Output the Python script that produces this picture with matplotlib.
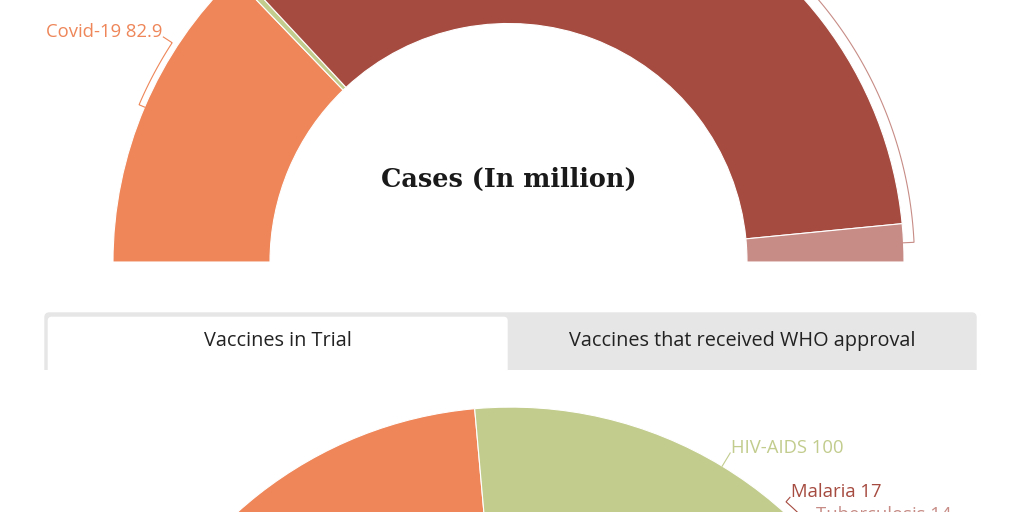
import numpy as np
import matplotlib
matplotlib.use("Agg")
import matplotlib.pyplot as plt
from matplotlib.patches import Wedge, FancyBboxPatch, Rectangle

# ---------------- data ----------------
diseases = ["Covid-19", "HIV-AIDS", "Malaria", "Tuberculosis"]
cases_millions = [82.9, 1.7, 229, 10]
vaccines_in_trial = [365, 100, 17, 14]
tab_labels = ["Vaccines in Trial", "Vaccines that received WHO approval"]
chart_title = "Cases (In million)"
colors = ["#EE8659", "#C2CC8D", "#A64B40", "#C78C86"]

# ---------------- layout ----------------
W, H = 1024, 512
fig = plt.figure(figsize=(W / 100, H / 100), dpi=100)
ax = fig.add_axes([0, 0, 1, 1])
ax.set_xlim(0, W)
ax.set_ylim(H, 0)
ax.axis("off")

SANS = ["Open Sans", "DejaVu Sans"]
renderer = fig.canvas.get_renderer()


def fit_size(s, target_px, family, weight="normal", base=12):
    t = ax.text(0, 0, s, fontsize=base, family=family, weight=weight)
    w = t.get_window_extent(renderer).width
    t.remove()
    return base * target_px / w


def pt(cx, cy, r, a):
    a = np.deg2rad(a)
    return cx + r * np.cos(a), cy - r * np.sin(a)


def wedge(cx, cy, r, a1, a2, width, color):
    # a1 < a2, screen angles counter-clockwise
    ax.add_patch(Wedge((cx, cy), r, -a2, -a1, width=width, facecolor=color,
                       edgecolor="white", linewidth=0.8, zorder=2))


def bracket(cx, cy, R, mid_a, lab_a, r_arc, r_end, color, text, fs):
    lab_a = mid_a + ((lab_a - mid_a + 180.0) % 360.0 - 180.0)
    xs, ys = [], []
    x, y = pt(cx, cy, R, mid_a); xs.append(x); ys.append(y)
    for a in np.linspace(mid_a, lab_a, 120):
        x, y = pt(cx, cy, r_arc, a); xs.append(x); ys.append(y)
    x, y = pt(cx, cy, r_end, lab_a); xs.append(x); ys.append(y)
    ax.plot(xs, ys, color=color, lw=0.8, zorder=3, solid_joinstyle="miter")
    # labels whose anchor lies well outside the canvas are not visible
    if -20 < y < H + 25 and 0 < x < W:
        ha = "left" if np.cos(np.deg2rad(lab_a)) > 0 else "right"
        dx = 1 if ha == "left" else -1
        ax.text(x + dx, y, text, ha=ha, va="baseline", color=color, fontsize=fs,
                family=SANS, zorder=4)


label_fs = fit_size("Covid-19 82.9", 116, SANS)

# ---------------- top half donut: cases ----------------
cx1, cy1, R1, r1 = 508.5, 262.0, 395.5, 238.5
total1 = sum(cases_millions)
top_label_angles = [146.9, 128.0, 88.0, 50.0]
top_arc_r = [401.5, 401.5, 401.5, 406.0]
a_start = 180.0
for i, v in enumerate(cases_millions):
    span = v / total1 * 180.0
    a_end = a_start - span
    wedge(cx1, cy1, R1, a_end, a_start, R1 - r1, colors[i])
    mid = (a_start + a_end) / 2
    bracket(cx1, cy1, R1, mid, top_label_angles[i], top_arc_r[i],
            top_arc_r[i] + 10.5, colors[i], f"{diseases[i]} {v:g}", label_fs)
    a_start = a_end

title_fs = fit_size(chart_title, 255, ["DejaVu Serif"], "bold")
ax.text(cx1, 186.7, chart_title, ha="center", va="baseline", fontsize=title_fs,
        family=["DejaVu Serif"], weight="bold", color="#1a1a1a", zorder=4)

# ---------------- tabs ----------------
clip = Rectangle((0, 0), W, 370, transform=ax.transData)
gray = FancyBboxPatch((44.3, 312.3), 932.4, 80, boxstyle="round,pad=0,rounding_size=5",
                      facecolor="#E6E6E6", edgecolor="none", zorder=1)
ax.add_patch(gray)
gray.set_clip_path(clip)
white = FancyBboxPatch((47.7, 316.7), 460, 80, boxstyle="round,pad=0,rounding_size=4",
                       facecolor="white", edgecolor="none", zorder=1.5)
ax.add_patch(white)
white.set_clip_path(clip)
tab_fs = fit_size(tab_labels[1], 343, SANS)
ax.text((47.7 + 507.7) / 2, 346, tab_labels[0], ha="center", va="baseline",
        fontsize=tab_fs, family=SANS, color="#222222", zorder=4)
ax.text((507.7 + 976.7) / 2, 346, tab_labels[1], ha="center", va="baseline",
        fontsize=tab_fs, family=SANS, color="#222222", zorder=4)

# ---------------- bottom pie: vaccines in trial ----------------
cx2, cy2, R2 = 510.8, 815.1, 408.0
total2 = sum(vaccines_in_trial)
pie_start = 90.0  # clockwise from 12 o'clock
pie_label_angles = [None, None, 41.3, 45.9]
pie_arc_r = [408.0, 408.0, 417.0, 419.0]
pie_end_r = [423.0, 423.4, 423.0, 424.0]
phi = pie_start
for i, v in enumerate(vaccines_in_trial):
    span = v / total2 * 360.0
    phi_e = phi + span
    wedge(cx2, cy2, R2, 90 - phi_e, 90 - phi, R2, colors[i])
    mid = (phi + phi_e) / 2
    lab = mid if pie_label_angles[i] is None else pie_label_angles[i]
    bracket(cx2, cy2, R2, 90 - mid, 90 - lab, pie_arc_r[i], pie_end_r[i],
            colors[i], f"{diseases[i]} {v:g}", label_fs)
    phi = phi_e

fig.savefig("out.png", dpi=100)
